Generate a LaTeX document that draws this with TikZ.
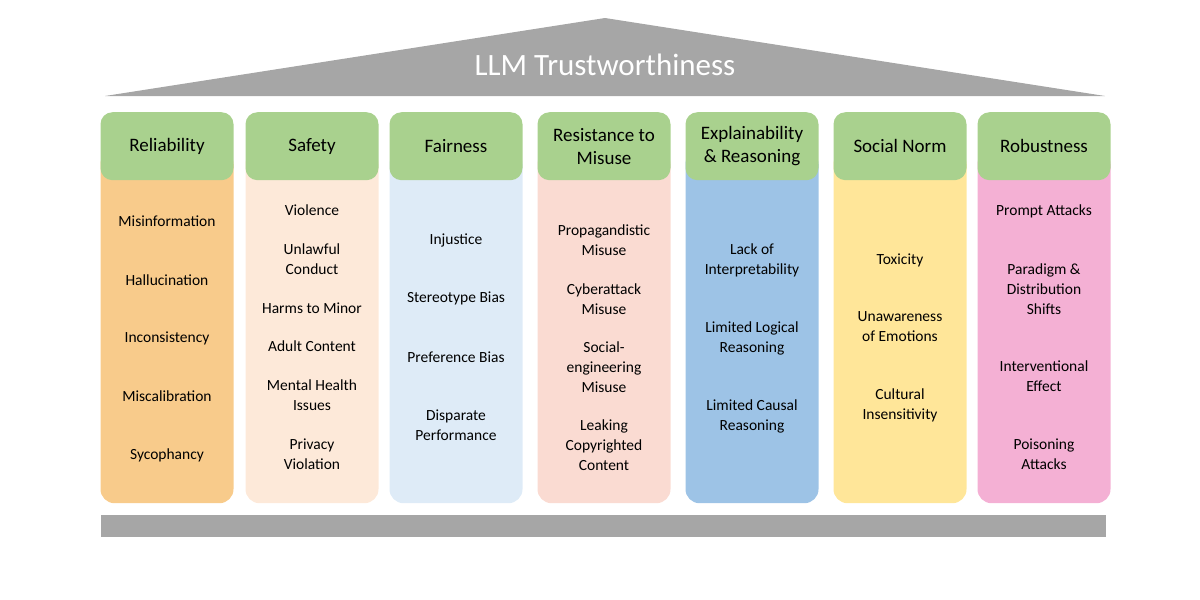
\documentclass[tikz,border=0pt]{standalone}
\usepackage{fontspec}
\setmainfont{Carlito}
\usetikzlibrary{positioning}
\definecolor{roofgray}{RGB}{166,166,166}
\definecolor{headgreen}{RGB}{169,209,142}
\definecolor{colorange}{RGB}{248,203,139}
\definecolor{colpeach}{RGB}{253,233,217}
\definecolor{colblue}{RGB}{222,235,247}
\definecolor{colsalmon}{RGB}{250,219,210}
\definecolor{coldeep}{RGB}{157,195,230}
\definecolor{colyellow}{RGB}{255,230,153}
\definecolor{colpink}{RGB}{244,176,212}
\tikzset{
  pillar/.style={rounded corners=14pt, minimum width=133pt, minimum height=353pt, anchor=north},
  header/.style={rounded corners=12pt, fill=headgreen, minimum width=133pt, minimum height=68pt, anchor=north, align=center, font=\fontsize{19}{23}\selectfont},
  item/.style={align=center, font=\fontsize{15.5}{20}\selectfont}
}
\begin{document}
\begin{tikzpicture}[x=1pt,y=-1pt]
\useasboundingbox (0,0) rectangle (1200,600);

% Roof and base
\fill[roofgray] (605,18) -- (1105,96) -- (105,96) -- cycle;
\node (title) at (605,65) [text=white, font=\fontsize{31}{35}\selectfont] {LLM Trustworthiness};
\fill[roofgray] (101,515) rectangle (1106,537);

% Pillars
\foreach \x/\c/\n/\t in {167/colorange/rel/Reliability, 312/colpeach/saf/Safety, 456/colblue/fai/Fairness,
  604/colsalmon/res/{Resistance to\\Misuse}, 752/coldeep/exp/{Explainability\\\& Reasoning},
  900/colyellow/soc/Social Norm, 1044/colpink/rob/Robustness} {
  \node (\n body) at (\x,150) [pillar, fill=\c] {};
  \node (\n) at (\x,112) [header] {\t};
}

% Items
\foreach \y/\t in {221/Misinformation, 280/Hallucination, 338/Inconsistency, 396/Miscalibration, 455/Sycophancy}
  \node at (167,\y) [item] {\t};
\foreach \y/\t in {210/Violence, 259/{Unlawful\\Conduct}, 308/Harms to Minor, 346/Adult Content, 395/{Mental Health\\Issues}, 454/{Privacy\\Violation}}
  \node at (312,\y) [item] {\t};
\foreach \y/\t in {240/Injustice, 298/Stereotype Bias, 357/Preference Bias, 425/{Disparate\\Performance}}
  \node at (456,\y) [item] {\t};
\foreach \y/\t in {240/{Propagandistic\\Misuse}, 299/{Cyberattack\\Misuse}, 367/{Social-\\engineering\\Misuse}, 445/{Leaking\\Copyrighted\\Content}}
  \node at (604,\y) [item] {\t};
\foreach \y/\t in {260/{Lack of\\Interpretability}, 338/{Limited Logical\\Reasoning}, 416/{Limited Causal\\Reasoning}}
  \node at (752,\y) [item] {\t};
\foreach \y/\t in {260/Toxicity, 327/{Unawareness\\of Emotions}, 405/{Cultural\\Insensitivity}}
  \node at (900,\y) [item] {\t};
\foreach \y/\t in {211/Prompt Attacks, 289/{Paradigm \&\\Distribution\\Shifts}, 376/{Interventional\\Effect}, 454/{Poisoning\\Attacks}}
  \node at (1044,\y) [item] {\t};

\end{tikzpicture}
\end{document}
